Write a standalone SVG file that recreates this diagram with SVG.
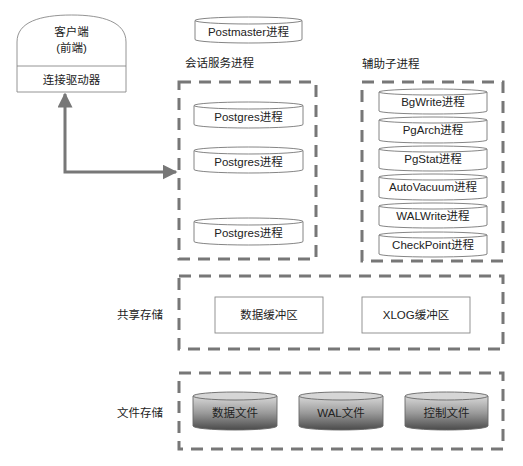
<svg xmlns="http://www.w3.org/2000/svg" width="523" height="466" viewBox="0 0 523 466">
<defs>
<style>
text{font-family:"Liberation Sans","Noto Sans CJK SC",sans-serif;font-size:11.5px;fill:#222;text-anchor:middle;dominant-baseline:central}
.lbl{text-anchor:start}
.cyl{fill:#fff;stroke:#777;stroke-width:0.9}
.dash{fill:none;stroke:#777;stroke-width:3;stroke-dasharray:12 8}
.box{fill:#fff;stroke:#888;stroke-width:0.9}
.fcyl{fill:url(#g);stroke:#666;stroke-width:0.9}
.ftop{fill:#d6d6d6;stroke:#666;stroke-width:0.9}
.conn{fill:none;stroke:#777;stroke-width:3}
</style>
<linearGradient id="g" x1="0" y1="0" x2="0" y2="1">
<stop offset="0" stop-color="#d8d8d8"/>
<stop offset="0.5" stop-color="#9a9a9a"/>
<stop offset="1" stop-color="#4a4a4a"/>
</linearGradient>
<marker id="ah" viewBox="0 0 10 10" refX="9" refY="5" markerWidth="5" markerHeight="5" orient="auto-start-reverse" markerUnits="strokeWidth">
<path d="M0,0 L10,5 L0,10 Z" fill="#777"/>
</marker>
</defs>
<rect width="523" height="466" fill="#fff"/>

<g id="client">
<path class="box" d="M17,92 V42 C17,22 40,15 71.5,15 C103,15 126,22 126,42 V92 Z"/>
<line x1="17" y1="66" x2="126" y2="66" stroke="#888" stroke-width="0.9"/>
<text x="71.5" y="32">客户端</text>
<text x="71.5" y="48">(前端)</text>
<text x="71.5" y="80">连接驱动器</text>
</g>

<g id="connectors">
<path class="conn" d="M65,94 V172 H176" marker-start="url(#ah)" marker-end="url(#ah)"/>
</g>

<g id="postmaster">
<path class="cyl" d="M195,20.5 V39.5 A53.5,3.5 0 0 0 302,39.5 V20.5"/>
<ellipse class="cyl" cx="248.5" cy="20.5" rx="53.5" ry="3.5"/>
<text x="248.5" y="32">Postmaster进程</text>
</g>

<g id="session">
<text class="lbl" x="185" y="63">会话服务进程</text>
<rect class="dash" x="179" y="82" width="137" height="177"/>
</g>
<g id="pg1">
<path class="cyl" d="M194,105.5 V124.5 A54.5,3.5 0 0 0 303,124.5 V105.5"/>
<ellipse class="cyl" cx="248.5" cy="105.5" rx="54.5" ry="3.5"/>
<text x="248.5" y="117">Postgres进程</text>
</g>
<g id="pg2">
<path class="cyl" d="M194,150.5 V169.5 A54.5,3.5 0 0 0 303,169.5 V150.5"/>
<ellipse class="cyl" cx="248.5" cy="150.5" rx="54.5" ry="3.5"/>
<text x="248.5" y="162">Postgres进程</text>
</g>
<g id="pg3">
<path class="cyl" d="M194,221.5 V241.5 A54.5,3.5 0 0 0 303,241.5 V221.5"/>
<ellipse class="cyl" cx="248.5" cy="221.5" rx="54.5" ry="3.5"/>
<text x="248.5" y="233">Postgres进程</text>
</g>

<g id="aux">
<text class="lbl" x="362" y="64">辅助子进程</text>
<rect class="dash" x="362" y="82" width="141" height="179"/>
</g>
<g id="bgwrite">
<path class="cyl" d="M379,92 V111 A54,3 0 0 0 487,111 V92"/>
<ellipse class="cyl" cx="433" cy="92" rx="54" ry="3"/>
<text x="433" y="102">BgWrite进程</text>
</g>
<g id="pgarch">
<path class="cyl" d="M379,120 V140 A54,3 0 0 0 487,140 V120"/>
<ellipse class="cyl" cx="433" cy="120" rx="54" ry="3"/>
<text x="433" y="130">PgArch进程</text>
</g>
<g id="pgstat">
<path class="cyl" d="M379,149 V168 A54,3 0 0 0 487,168 V149"/>
<ellipse class="cyl" cx="433" cy="149" rx="54" ry="3"/>
<text x="433" y="159">PgStat进程</text>
</g>
<g id="autovacuum">
<path class="cyl" d="M379,177 V197 A54,3 0 0 0 487,197 V177"/>
<ellipse class="cyl" cx="433" cy="177" rx="54" ry="3"/>
<text x="433" y="187">AutoVacuum进程</text>
</g>
<g id="walwrite">
<path class="cyl" d="M379,206 V225 A54,3 0 0 0 487,225 V206"/>
<ellipse class="cyl" cx="433" cy="206" rx="54" ry="3"/>
<text x="433" y="216">WALWrite进程</text>
</g>
<g id="checkpoint">
<path class="cyl" d="M379,235 V254 A54,3 0 0 0 487,254 V235"/>
<ellipse class="cyl" cx="433" cy="235" rx="54" ry="3"/>
<text x="433" y="245">CheckPoint进程</text>
</g>

<g id="shared">
<text class="lbl" x="117" y="315">共享存储</text>
<rect class="dash" x="179" y="276" width="324" height="73"/>
</g>
<g id="databuf">
<rect class="box" x="215" y="297" width="108" height="36"/>
<text x="269" y="315">数据缓冲区</text>
</g>
<g id="xlogbuf">
<rect class="box" x="362" y="297" width="108" height="36"/>
<text x="416" y="315">XLOG缓冲区</text>
</g>

<g id="filestore">
<text class="lbl" x="117" y="413">文件存储</text>
<rect class="dash" x="179" y="373" width="324" height="76"/>
</g>
<g id="datafile">
<path class="fcyl" d="M193,396 V426 A42,4 0 0 0 277,426 V396"/>
<ellipse class="ftop" cx="235" cy="396" rx="42" ry="4"/>
<text x="235" y="413">数据文件</text>
</g>
<g id="walfile">
<path class="fcyl" d="M299,396 V426 A42,4 0 0 0 383,426 V396"/>
<ellipse class="ftop" cx="341" cy="396" rx="42" ry="4"/>
<text x="341" y="413">WAL文件</text>
</g>
<g id="ctlfile">
<path class="fcyl" d="M405,396 V426 A41.5,4 0 0 0 488,426 V396"/>
<ellipse class="ftop" cx="446.5" cy="396" rx="41.5" ry="4"/>
<text x="446.5" y="413">控制文件</text>
</g>
</svg>
